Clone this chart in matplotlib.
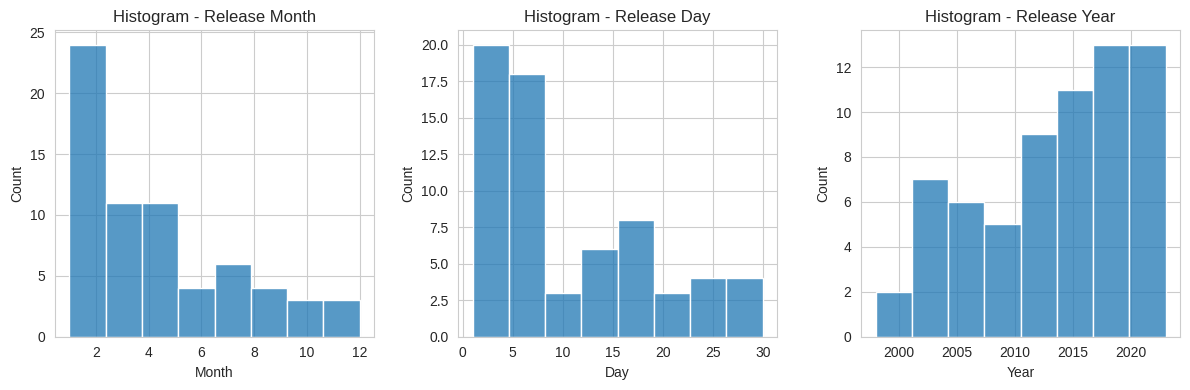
import numpy as np
import pandas as pd
import matplotlib
matplotlib.use("Agg")
import matplotlib.pyplot as plt
import seaborn as sns

# counts per bin (8 bins each)
month_range = (1, 12)
month_counts = [24, 11, 11, 4, 6, 4, 3, 3]

day_range = (1, 30)
day_counts = [20, 18, 3, 6, 8, 3, 4, 4]

year_range = (1998, 2023)
year_counts = [2, 7, 6, 5, 9, 11, 13, 13]

sns.set_style("whitegrid")
plt.rcParams["font.family"] = ["Liberation Sans", "DejaVu Sans"]

fig, axes = plt.subplots(1, 3, figsize=(11.9, 3.9), dpi=100)

panels = [
    (month_range, month_counts, "Month", "Histogram - Release Month"),
    (day_range, day_counts, "Day", "Histogram - Release Day"),
    (year_range, year_counts, "Year", "Histogram - Release Year"),
]

for ax, (rng, counts, xlabel, title) in zip(axes, panels):
    edges = np.linspace(rng[0], rng[1], len(counts) + 1)
    df = pd.DataFrame({"x": (edges[:-1] + edges[1:]) / 2, "w": counts})
    sns.histplot(data=df, x="x", weights="w", bins=list(edges), ax=ax)
    ax.set_title(title)
    ax.set_xlabel(xlabel)
    ax.set_ylabel("Count")

plt.subplots_adjust(left=0.0462, right=0.9918, top=0.9231, bottom=0.1367, wspace=0.263)
plt.savefig("out.png")
